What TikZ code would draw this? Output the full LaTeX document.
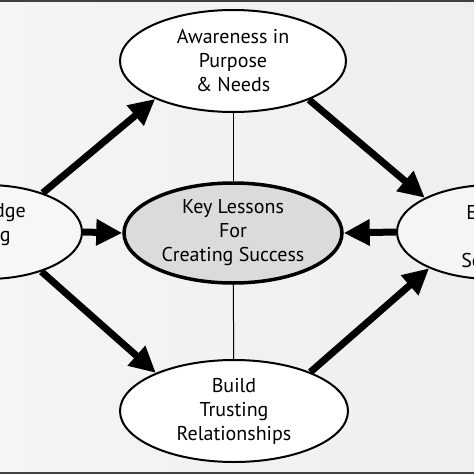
\documentclass[tikz,border=0pt]{standalone}
\usepackage{fontspec}
\setmainfont{PT Sans}
\usetikzlibrary{arrows.meta,shapes.geometric}
\begin{document}
\begin{tikzpicture}[x=1pt,y=-1pt,
  txt/.style={align=center, font=\fontsize{20}{24}\selectfont},
  oval/.style={ellipse, draw=black, line width=2pt, fill=white, inner sep=0pt, txt},
  hub/.style={oval, fill=gray!28, line width=3.5pt},
  bigarrow/.style={line width=7pt, -{Triangle[length=26pt,width=25pt]}},
  linkline/.style={line width=1pt}]
\useasboundingbox (0,0) rectangle (474,474);
\shade[left color=gray!8, right color=gray!13] (0,0) rectangle (474,474);
\fill[black!75] (0,0) rectangle (474,2);
\fill[black!75] (0,472) rectangle (474,474);
\node[oval, minimum width=226pt, minimum height=102pt] (T) at (233,61) {Awareness in\\Purpose\\\& Needs};
\node[hub, minimum width=218pt, minimum height=100pt] (C) at (233,233) {Key Lessons\\For\\Creating Success};
\node[oval, minimum width=228pt, minimum height=102pt] (B) at (234,411) {Build\\Trusting\\Relationships};
\node[oval, fill=white!97!black, minimum width=190pt, minimum height=94pt,
  label={[name=Lt, txt, yshift=7pt, xshift=-9pt]center:Knowledge\\Sharing}] (L) at (-13,232) {};
\node[oval, fill=white!96!black, minimum width=190pt, minimum height=94pt,
  label={[name=Rt, txt, yshift=-5pt]center:Ethics\\in\\Service}] (R) at (492,232) {};
\draw[linkline] (T) -- (C);
\draw[linkline] (C) -- (B);
\draw[bigarrow] (L.35) -- (T.206);
\draw[bigarrow] (L.east) -- (C.west);
\draw[bigarrow] (L.324) -- (B.154);
\draw[bigarrow] (T.333) -- (R.153);
\draw[bigarrow] (B.27) -- (R.210);
\draw[bigarrow] (R.west) -- (C.east);
\end{tikzpicture}
\end{document}
